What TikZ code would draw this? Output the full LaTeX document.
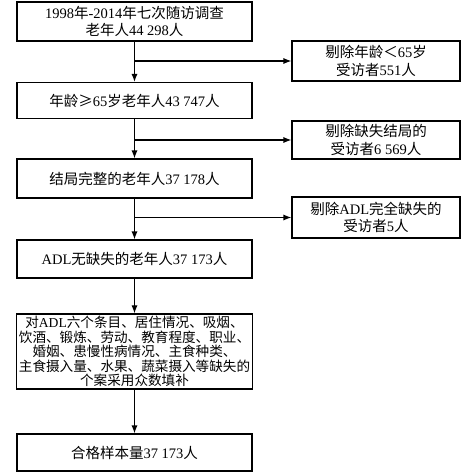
\documentclass[tikz,border=0pt]{standalone}
\usepackage{fontspec}
\setmainfont{Liberation Serif}
\newfontfamily\cjk{Noto Sans CJK SC}
\newcommand{\zh}[1]{{\cjk #1}}
\usetikzlibrary{arrows.meta, positioning, calc}

\begin{document}
\begin{tikzpicture}[x=1pt, y=-1pt, line width=1.1pt,
      mainbox/.style={draw, minimum width=235pt, align=center, inner sep=2pt,
        font=\fontsize{14.5}{17.5}\selectfont},
      sidebox/.style={draw, minimum width=168pt, align=center, inner sep=2pt,
        font=\fontsize{14.5}{17.5}\selectfont},
      flow/.style={-{Latex[length=8pt, width=6pt]}}]
    \useasboundingbox (0,0) rectangle (474,474);
    % main column
    \node[mainbox, minimum height=39pt] (survey) at (134.5,21.5)
      {1998\zh{年}-2014\zh{年七次随访调查}\\\zh{老年人}44 298\zh{人}};
    \node[mainbox, minimum height=36pt] (aged) at (134.5,100.5)
      {\zh{年龄≥}65\zh{岁老年人}43 747\zh{人}};
    \node[mainbox, minimum height=39pt] (outcome) at (134.5,178.5)
      {\zh{结局完整的老年人}37 178\zh{人}};
    \node[mainbox, minimum height=38pt] (adl) at (134.5,259)
      {ADL\zh{无缺失的老年人}37 173\zh{人}};
    \node[mainbox, minimum height=73pt, font=\fontsize{13.6}{14.6}\selectfont] (impute) at (134.5,351.5)
      {\zh{对}ADL\zh{六个条目、居住情况、吸烟、}\\
       \zh{饮酒、锻炼、劳动、教育程度、职业、}\\
       \zh{婚姻、患慢性病情况、主食种类、}\\
       \zh{主食摄入量、水果、蔬菜摄入等缺失的}\\
       \zh{个案采用众数填补}};
    \node[mainbox, minimum height=37pt] (final) at (134.5,452.5)
      {\zh{合格样本量}37 173\zh{人}};
    % excluded
    \node[sidebox, minimum height=40pt] (young) at (376,61)
      {\zh{剔除年龄＜}65\zh{岁}\\\zh{受访者}551\zh{人}};
    \node[sidebox, minimum height=38pt] (lost) at (376,140)
      {\zh{剔除缺失结局的}\\\zh{受访者}6 569\zh{人}};
    \node[sidebox, minimum height=41pt] (noadl) at (376,217.5)
      {\zh{剔除}ADL\zh{完全缺失的}\\\zh{受访者}5\zh{人}};
    % arrows
    \draw[flow] (survey) -- (aged);
    \draw[flow] (aged) -- (outcome);
    \draw[flow] (outcome) -- (adl);
    \draw[flow] (adl) -- (impute);
    \draw[flow] (impute) -- (final);
    \draw[flow] (survey.south |- young.west) -- (young.west);
    \draw[flow] (aged.south |- lost.west) -- (lost.west);
    \draw[flow] (outcome.south |- noadl.west) -- (noadl.west);
  \end{tikzpicture}
\end{document}
